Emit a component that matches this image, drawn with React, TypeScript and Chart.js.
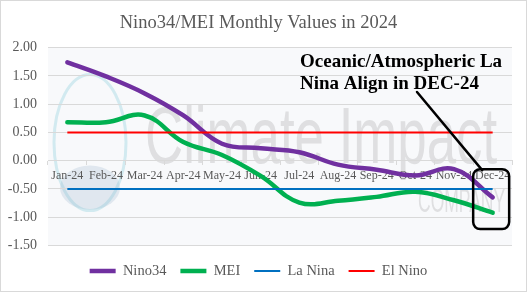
import { useEffect, useRef } from 'react';
import { Chart, registerables } from 'chart.js';

Chart.register(...registerables);

// Monthly index values for 2024
const months = ['Jan-24', 'Feb-24', 'Mar-24', 'Apr-24', 'May-24', 'Jun-24', 'Jul-24', 'Aug-24', 'Sep-24', 'Oct-24', 'Nov-24', 'Dec-24'];
const nino34 = [1.74, 1.49, 1.19, 0.8, 0.3, 0.22, 0.15, -0.07, -0.16, -0.26, -0.15, -0.65];
const mei = [0.68, 0.68, 0.8, 0.33, 0.1, -0.27, -0.74, -0.71, -0.64, -0.55, -0.7, -0.92];

// ENSO thresholds
const LA_NINA_THRESHOLD = -0.5;
const EL_NINO_THRESHOLD = 0.5;
const laNina = months.map(() => LA_NINA_THRESHOLD);
const elNino = months.map(() => EL_NINO_THRESHOLD);

// Value axis
const Y_MIN = -1.5;
const Y_MAX = 2.0;
const Y_STEP = 0.5;

const TITLE = 'Nino34/MEI Monthly Values in 2024';
const NOTE_LINES = ['Oceanic/Atmospheric La', 'Nina Align in DEC-24'];

const SERIF = "'Liberation Serif', 'Times New Roman', serif";
const SANS = "'Liberation Sans', Arial, sans-serif";
const TEXT_GREY = '#595959';
const GRID_GREY = '#d9d9d9';

// Plot background, faint company watermark and outer frame
const backdropPlugin = {
  id: 'backdrop',
  beforeDraw(chart: any) {
    const { ctx, chartArea: a } = chart;
    ctx.save();
    ctx.fillStyle = '#f8f9fb';
    ctx.fillRect(a.left, a.top, a.right - a.left, a.bottom - a.top);

    // logo outline
    ctx.strokeStyle = 'rgba(140, 205, 220, 0.35)';
    ctx.lineWidth = 3;
    ctx.beginPath();
    ctx.ellipse(a.left + 42, a.top + 95, 36, 68, 0, 0, Math.PI * 2);
    ctx.stroke();
    ctx.fillStyle = 'rgba(150, 180, 205, 0.25)';
    ctx.beginPath();
    ctx.ellipse(a.left + 42, a.top + 140, 30, 22, 0, 0, Math.PI * 2);
    ctx.fill();

    ctx.fillStyle = 'rgba(150, 150, 150, 0.26)';
    ctx.textBaseline = 'alphabetic';
    ctx.textAlign = 'left';
    ctx.font = `80px ${SANS}`;
    ctx.save();
    ctx.translate(a.left + 97, a.top + 115);
    ctx.scale(0.66, 1);
    ctx.fillText('Climate Impact', 0, 0);
    ctx.restore();
    ctx.font = `33px ${SANS}`;
    ctx.save();
    ctx.translate(a.left + 370, a.top + 164);
    ctx.scale(0.53, 1);
    ctx.fillText('COMPANY', 0, 0);
    ctx.restore();
    ctx.restore();
  },
  afterDraw(chart: any) {
    const { ctx, width, height } = chart;
    ctx.save();
    ctx.strokeStyle = GRID_GREY;
    ctx.lineWidth = 1;
    ctx.strokeRect(0.5, 0.5, width - 1, height - 1);
    ctx.restore();
  },
};

// Call-out text, pointer and box around the December values
const calloutPlugin = {
  id: 'callout',
  afterDatasetsDraw(chart: any) {
    const { ctx } = chart;
    const x = chart.scales.x;
    const y = chart.scales.y;
    const dec = x.getPixelForValue(months.length - 1);
    const boxLeft = dec - 19.5;
    const boxRight = dec + 16.5;
    const boxTop = y.getPixelForValue(-0.15);
    const boxBottom = y.getPixelForValue(-1.21);

    ctx.save();
    ctx.fillStyle = '#000';
    ctx.font = `bold 19px ${SERIF}`;
    ctx.textAlign = 'left';
    ctx.textBaseline = 'alphabetic';
    ctx.fillText(NOTE_LINES[0], 300, 67);
    ctx.fillText(NOTE_LINES[1], 300, 89);

    ctx.strokeStyle = '#000';
    ctx.lineWidth = 2.5;
    ctx.lineCap = 'round';
    ctx.beginPath();
    ctx.moveTo(417, 92);
    ctx.lineTo(boxLeft + 9, boxTop + 1);
    ctx.stroke();

    ctx.lineWidth = 2.5;
    ctx.beginPath();
    ctx.roundRect(boxLeft, boxTop, boxRight - boxLeft, boxBottom - boxTop, 7);
    ctx.stroke();
    ctx.restore();
  },
};

export default function App() {
  const canvasRef = useRef<HTMLCanvasElement | null>(null);

  useEffect(() => {
    document.body.style.margin = '0';
    const canvas = canvasRef.current;
    if (!canvas) return;

    const chart = new Chart(canvas, {
      type: 'line',
      data: {
        labels: months,
        datasets: [
          {
            label: 'Nino34',
            data: nino34,
            borderColor: '#7030a0',
            backgroundColor: '#7030a0',
            borderWidth: 4.5,
            borderCapStyle: 'round',
            tension: 0.4,
            pointRadius: 0,
            order: 3,
          },
          {
            label: 'MEI',
            data: mei,
            borderColor: '#00b050',
            backgroundColor: '#00b050',
            borderWidth: 4.5,
            borderCapStyle: 'round',
            tension: 0.4,
            pointRadius: 0,
            order: 2,
          },
          {
            label: 'La Nina',
            data: laNina,
            borderColor: '#0070c0',
            backgroundColor: '#0070c0',
            borderWidth: 2,
            pointRadius: 0,
            order: 1,
          },
          {
            label: 'El Nino',
            data: elNino,
            borderColor: '#ff0000',
            backgroundColor: '#ff0000',
            borderWidth: 2,
            pointRadius: 0,
            order: 0,
          },
        ],
      },
      options: {
        animation: false,
        responsive: false,
        events: [],
        layout: { padding: { left: 5, right: 15, top: 0, bottom: 3.8 } },
        plugins: {
          title: {
            display: true,
            text: TITLE,
            color: TEXT_GREY,
            font: { family: SERIF, size: 18.5, weight: 'normal' },
            padding: { top: 12, bottom: 13.4 },
          },
          legend: {
            position: 'bottom',
            title: { display: true, text: '', padding: { top: 3, bottom: 0 }, font: { size: 1 } },
            labels: {
              usePointStyle: true,
              pointStyle: 'line',
              pointStyleWidth: 26,
              padding: 14,
              color: TEXT_GREY,
              font: { family: SERIF, size: 14.5 },
              sort: (a: any, b: any) => a.datasetIndex - b.datasetIndex,
            },
          },
          tooltip: { enabled: false },
        },
        scales: {
          x: {
            position: { y: 0 },
            offset: true,
            grid: {
              drawOnChartArea: false,
              drawTicks: true,
              tickLength: 4,
              color: GRID_GREY,
              offset: true,
            },
            border: { color: GRID_GREY },
            ticks: {
              autoSkip: false,
              maxRotation: 0,
              color: TEXT_GREY,
              font: { family: SERIF, size: 12 },
              padding: 4,
            },
          },
          y: {
            min: Y_MIN,
            max: Y_MAX,
            grid: { color: GRID_GREY, drawTicks: false },
            border: { display: false },
            ticks: {
              stepSize: Y_STEP,
              color: TEXT_GREY,
              font: { family: SERIF, size: 14 },
              padding: 11,
              callback: (v: any) => Number(v).toFixed(2),
            },
            afterFit: (scale: any) => {
              scale.width = 43;
            },
          },
        },
      },
      plugins: [backdropPlugin, calloutPlugin],
    } as any);

    return () => chart.destroy();
  }, []);

  return <canvas ref={canvasRef} width={527} height={292} style={{ display: 'block' }} />;
}
